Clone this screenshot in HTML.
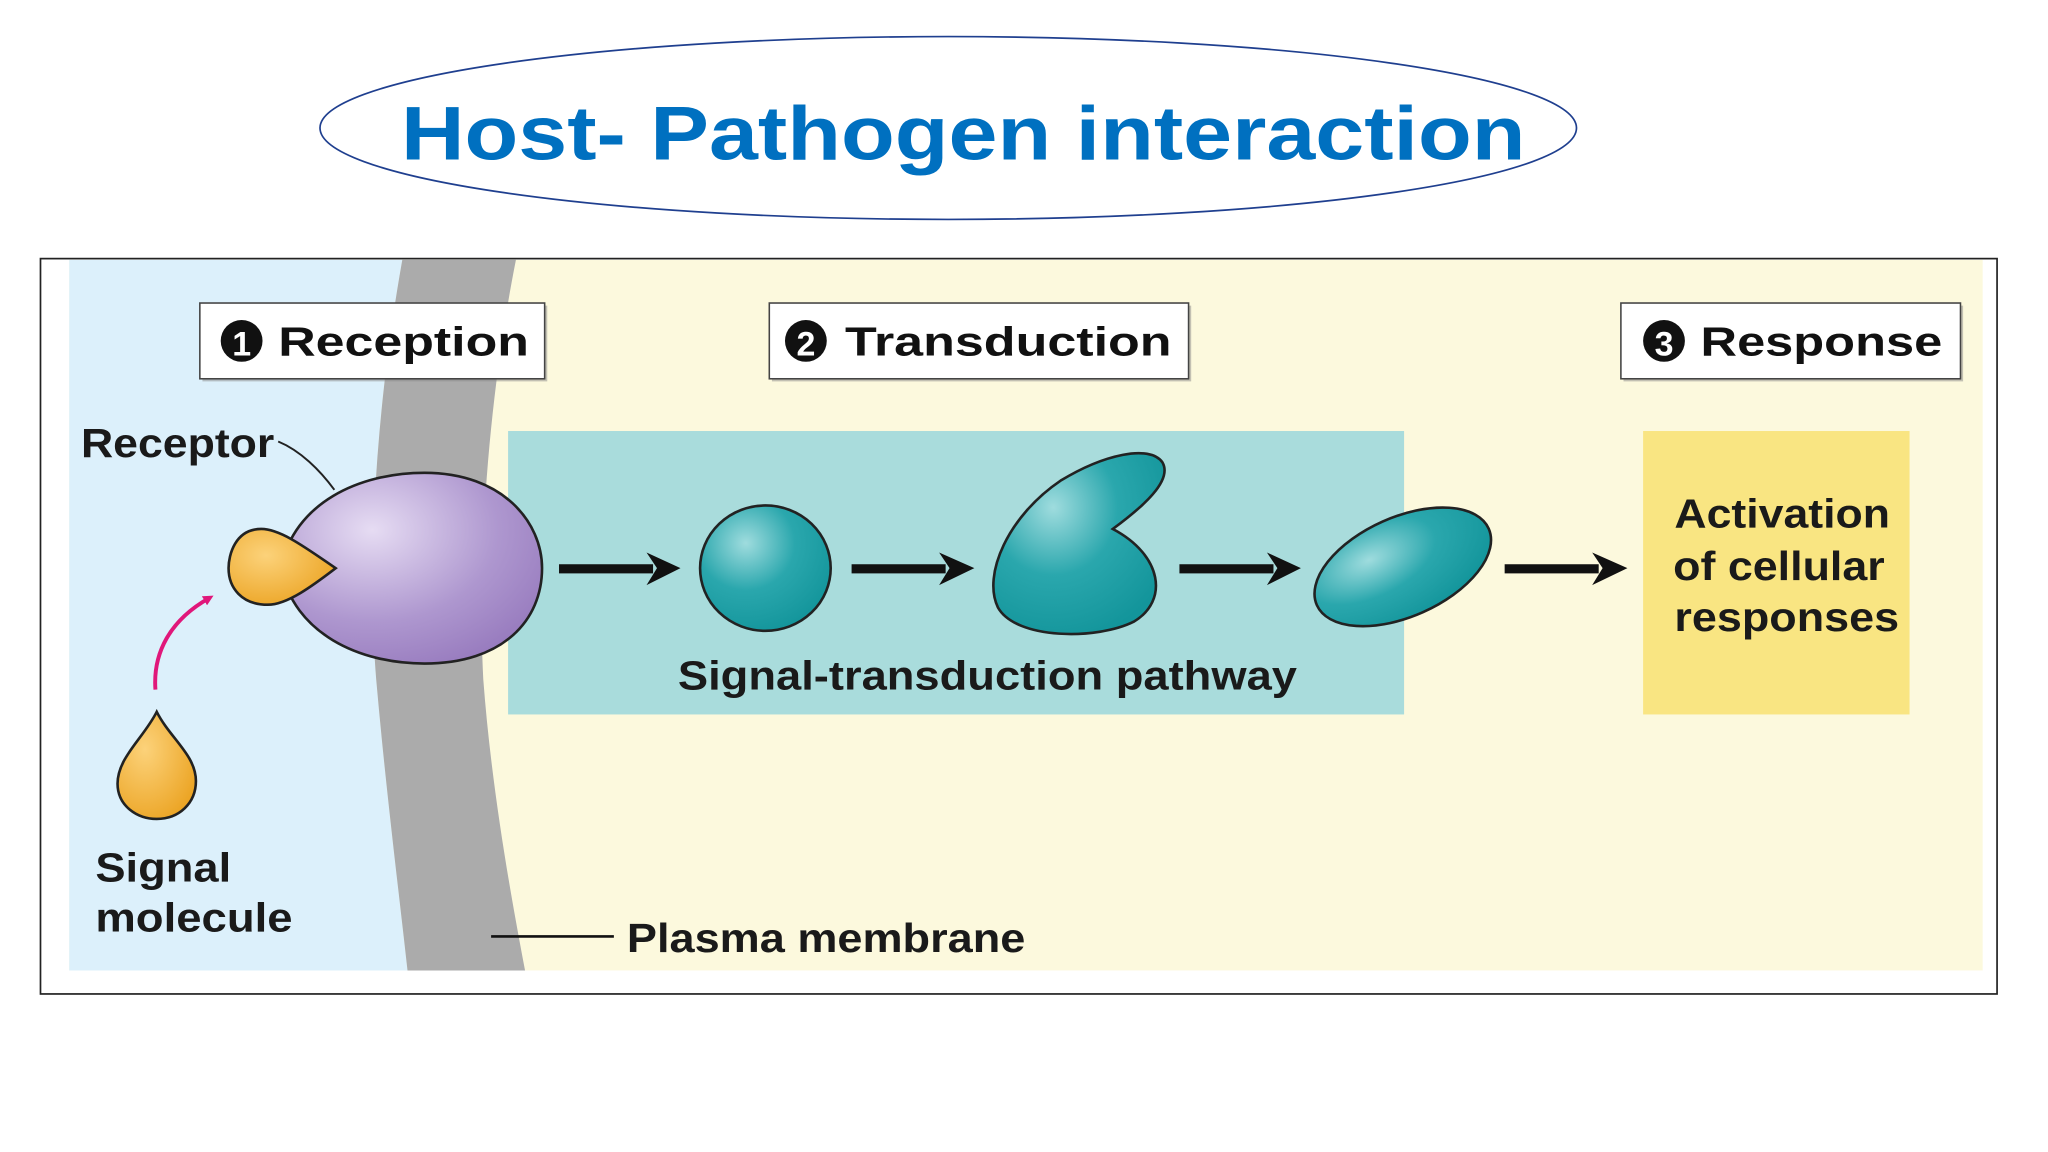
<!DOCTYPE html>
<html><head><meta charset="utf-8"><style>html,body{margin:0;padding:0;background:#fff}svg{display:block}</style></head>
<body>
<svg width="2048" height="1152" viewBox="0 0 1568 882" preserveAspectRatio="none" xmlns="http://www.w3.org/2000/svg" font-family="'Liberation Sans',Arial,sans-serif">
<defs>
<radialGradient id="pur" cx="0.35" cy="0.3" r="0.8"><stop offset="0" stop-color="#e6dcf3"/><stop offset="0.6" stop-color="#ae97cf"/><stop offset="1" stop-color="#9679bd"/></radialGradient>
<radialGradient id="org" cx="0.35" cy="0.35" r="0.8"><stop offset="0" stop-color="#fcd27a"/><stop offset="1" stop-color="#eaa01c"/></radialGradient>
<radialGradient id="tel" cx="0.35" cy="0.3" r="0.75"><stop offset="0" stop-color="#9fdcde"/><stop offset="0.5" stop-color="#2aa7ad"/><stop offset="1" stop-color="#13959b"/></radialGradient>
<marker id="pk" markerWidth="8" markerHeight="8" refX="4" refY="4" orient="auto" markerUnits="userSpaceOnUse"><path d="M0,0 L8,4 L0,8 Z" fill="#e0177a"/></marker>
</defs>
<!-- title -->
<ellipse cx="726" cy="98" rx="481" ry="70" fill="#fff" stroke="#1f3f8f" stroke-width="1.3"/>
<text x="307" y="122" font-size="58" font-weight="bold" fill="#0070c0" textLength="861" lengthAdjust="spacingAndGlyphs">Host- Pathogen interaction</text>
<!-- frame -->
<rect x="31" y="198" width="1498" height="563" fill="#fff" stroke="#222" stroke-width="1.3"/>
<rect x="53" y="199" width="1465" height="544" fill="#fcf9dd"/>
<path d="M53,199 L308,199 C290,300 280,420 288,520 C295,600 305,680 312,743 L53,743 Z" fill="#dcf0fb"/>
<path d="M308,199 L395,199 C375,300 365,420 370,520 C376,600 390,680 402,743 L312,743 C305,680 295,600 288,520 C280,420 290,300 308,199 Z" fill="#ababab"/>
<!-- teal and yellow -->
<rect x="389" y="330" width="686" height="217" fill="#a9dcdc"/>
<rect x="1258" y="330" width="204" height="217" fill="#f9e582"/>
<!-- label boxes -->
<g font-weight="bold" font-size="31" fill="#111">
<rect x="155" y="234" width="264" height="58" fill="#888" opacity="0.5"/>
<rect x="153" y="232" width="264" height="58" fill="#fff" stroke="#444" stroke-width="1.2"/>
<circle cx="185" cy="261" r="16" fill="#111"/><text x="185" y="272" font-size="26" fill="#fff" text-anchor="middle">1</text>
<text x="213" y="272" textLength="192" lengthAdjust="spacingAndGlyphs">Reception</text>
<rect x="591" y="234" width="321" height="58" fill="#888" opacity="0.5"/>
<rect x="589" y="232" width="321" height="58" fill="#fff" stroke="#444" stroke-width="1.2"/>
<circle cx="617" cy="261" r="16" fill="#111"/><text x="617" y="272" font-size="26" fill="#fff" text-anchor="middle">2</text>
<text x="647" y="272" textLength="250" lengthAdjust="spacingAndGlyphs">Transduction</text>
<rect x="1243" y="234" width="260" height="58" fill="#888" opacity="0.5"/>
<rect x="1241" y="232" width="260" height="58" fill="#fff" stroke="#444" stroke-width="1.2"/>
<circle cx="1274" cy="261" r="16" fill="#111"/><text x="1274" y="272" font-size="26" fill="#fff" text-anchor="middle">3</text>
<text x="1302" y="272" textLength="185" lengthAdjust="spacingAndGlyphs">Response</text>
</g>
<!-- receptor -->
<path d="M215,435 C225,385 275,362 325,362 C385,362 415,400 415,435 C415,475 385,508 325,508 C275,508 225,485 215,435 Z" fill="url(#pur)" stroke="#222" stroke-width="2"/>
<path d="M257,435 C235,420 215,405 200,405 C180,405 175,425 175,435 C175,450 185,463 205,463 C220,463 240,448 257,435 Z" fill="url(#org)" stroke="#222" stroke-width="2"/>
<path d="M213,338 C230,345 245,360 256,375" fill="none" stroke="#222" stroke-width="1.5"/>
<!-- free signal -->
<path d="M120,545 C110,565 90,580 90,600 C90,617 105,627 120,627 C137,627 150,615 150,598 C150,578 130,565 120,545 Z" fill="url(#org)" stroke="#222" stroke-width="2"/>
<path d="M119,528 C117,500 130,475 160,458" fill="none" stroke="#e0177a" stroke-width="3" marker-end="url(#pk)"/>
<!-- arrows -->
<g fill="#111">
<rect x="428" y="432" width="72" height="7"/><path d="M495,423 L521,435 L495,448 L503,435 Z"/>
<rect x="652" y="432" width="72" height="7"/><path d="M719,423 L746,435 L719,448 L727,435 Z"/>
<rect x="903" y="432" width="72" height="7"/><path d="M970,423 L996,435 L970,448 L978,435 Z"/>
<rect x="1152" y="432" width="72" height="7"/><path d="M1219,423 L1246,435 L1219,448 L1227,435 Z"/>
</g>
<!-- teal shapes -->
<ellipse cx="586" cy="435" rx="50" ry="48" fill="url(#tel)" stroke="#222" stroke-width="2"/>
<path d="M852,405 C875,388 898,368 890,354 C880,340 845,348 812,368 C772,395 752,440 764,465 C778,490 840,490 868,476 C895,460 890,425 852,405 Z" fill="url(#tel)" stroke="#222" stroke-width="2"/>
<ellipse cx="1074" cy="434" rx="72" ry="38" transform="rotate(-24 1074 434)" fill="url(#tel)" stroke="#222" stroke-width="2"/>
<!-- labels -->
<g font-weight="bold" fill="#1a1a1a" font-size="31">
<text x="62" y="350" textLength="148" lengthAdjust="spacingAndGlyphs">Receptor</text>
<text x="519" y="528" textLength="474" lengthAdjust="spacingAndGlyphs">Signal-transduction pathway</text>
<text x="73" y="675" textLength="104" lengthAdjust="spacingAndGlyphs">Signal</text>
<text x="73" y="713" textLength="151" lengthAdjust="spacingAndGlyphs">molecule</text>
<text x="480" y="729" textLength="305" lengthAdjust="spacingAndGlyphs">Plasma membrane</text>
<text x="1282" y="404" textLength="165" lengthAdjust="spacingAndGlyphs">Activation</text>
<text x="1281" y="444" textLength="162" lengthAdjust="spacingAndGlyphs">of cellular</text>
<text x="1282" y="483" textLength="172" lengthAdjust="spacingAndGlyphs">responses</text>
</g>
<line x1="376" y1="717" x2="470" y2="717" stroke="#111" stroke-width="2"/>
</svg>
</body></html>
